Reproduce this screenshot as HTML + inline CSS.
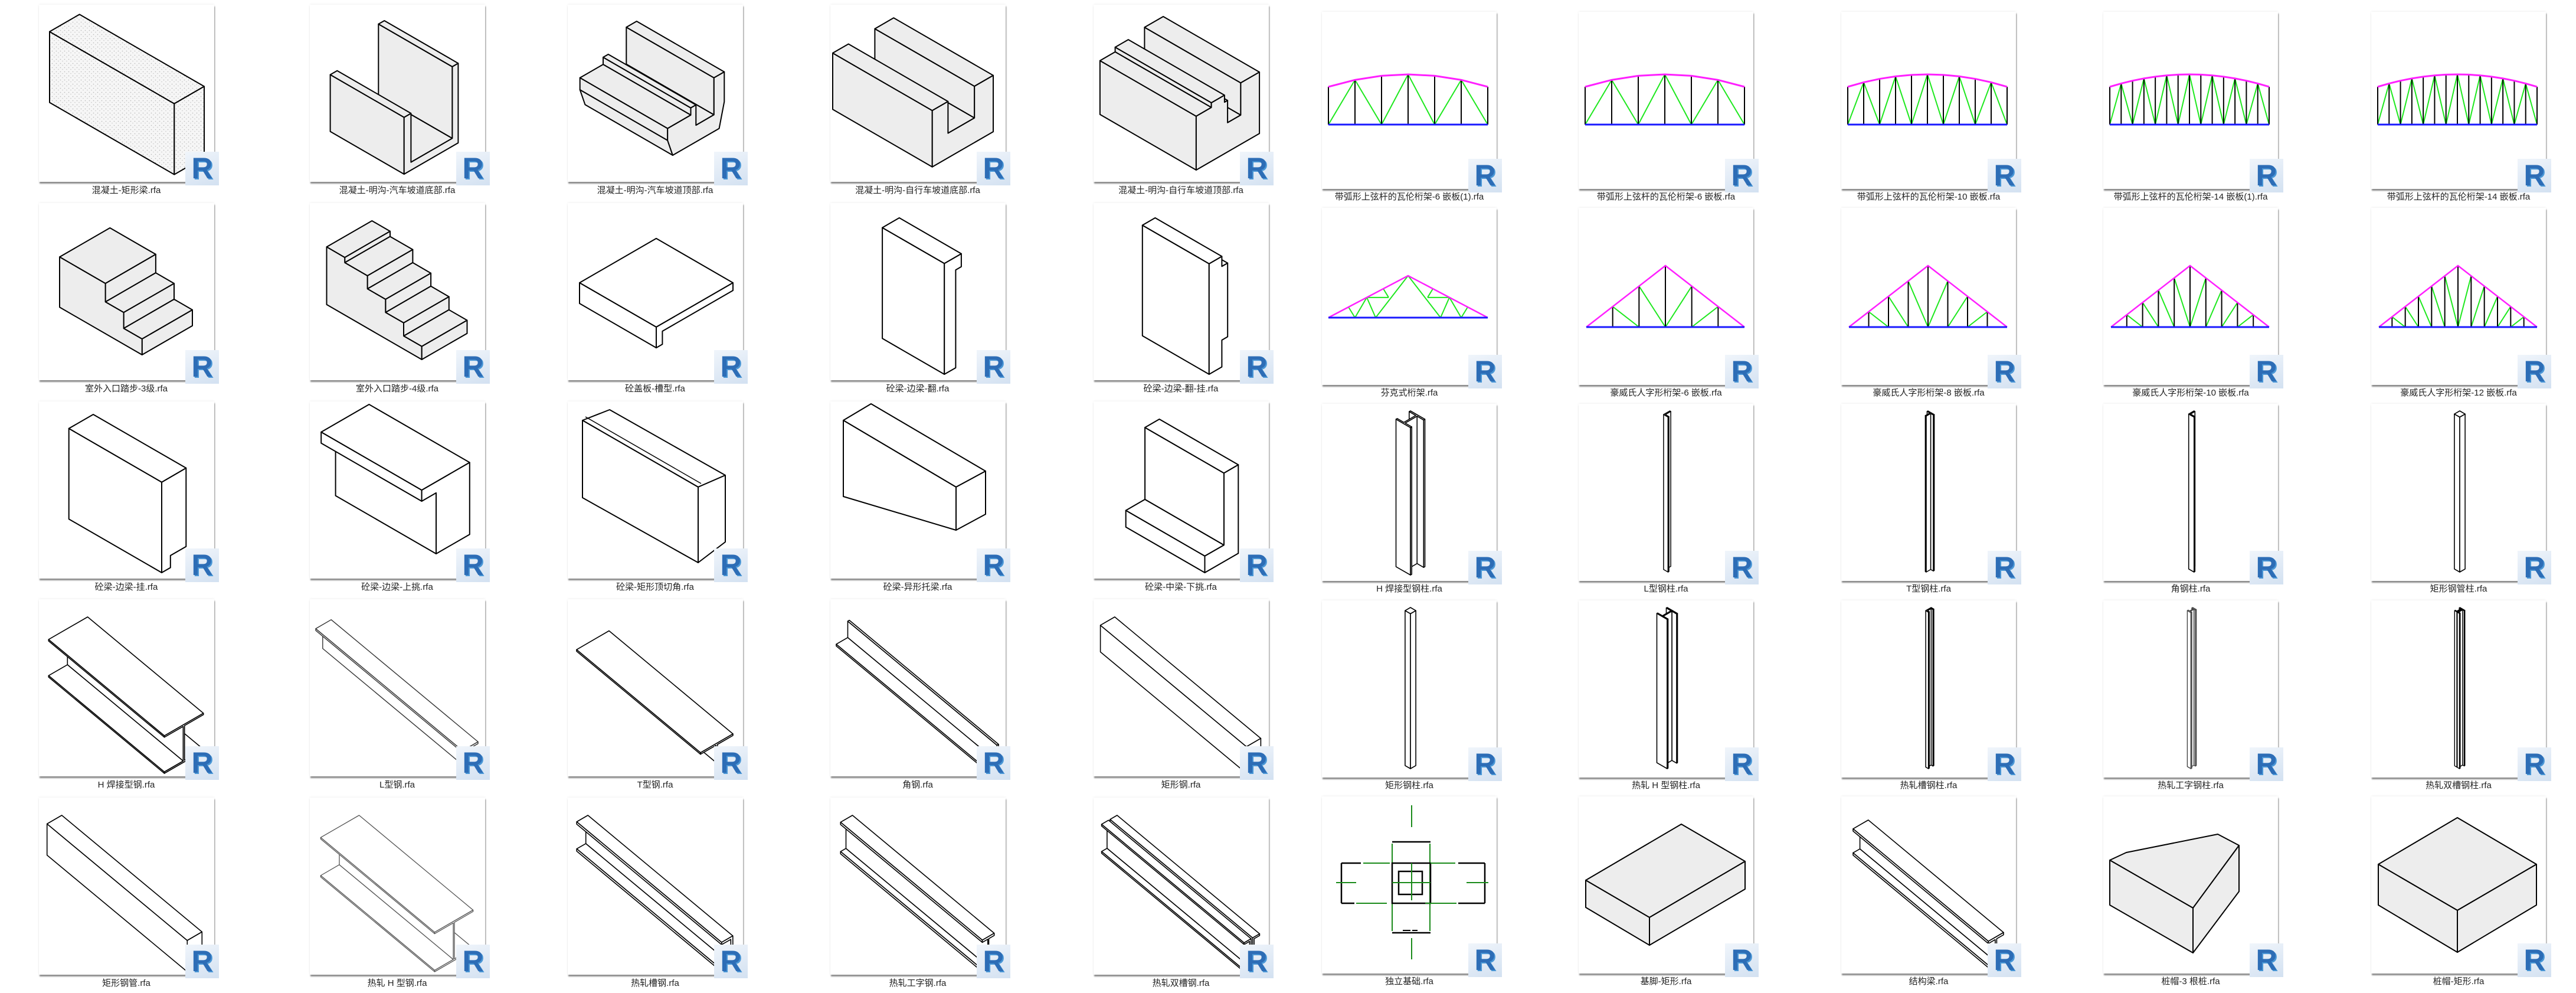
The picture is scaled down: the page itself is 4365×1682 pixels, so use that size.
<!DOCTYPE html>
<html><head><meta charset="utf-8">
<style>
html,body{margin:0;padding:0;background:#fff;}
body{width:4365px;height:1682px;position:relative;overflow:hidden;font-family:"Liberation Sans","Noto Sans CJK SC",sans-serif;}
.th{position:absolute;width:297px;height:300px;background:#fff;box-shadow:1px 3px 2px rgba(0,0,0,0.45),0 -1px 3px rgba(0,0,0,0.06);}
.th svg{position:absolute;left:0;top:0;}
.rb{position:absolute;left:248px;top:249px;width:57px;height:57px;background:linear-gradient(160deg,#f0f5fb,#d3e1f1);font:bold 50px/57px "Liberation Sans",sans-serif;color:#2d6db6;text-align:center;text-shadow:2px 2px 0 #4a97d6;}
.lb{position:absolute;width:440px;text-align:center;font-size:15px;line-height:20px;color:#222;white-space:nowrap;}
</style></head><body>
<div id="cells"></div>

<div class="lb" style="left:-6px;top:313px">混凝土-矩形梁.rfa</div>
<div class="lb" style="left:453px;top:313px">混凝土-明沟-汽车坡道底部.rfa</div>
<div class="lb" style="left:890px;top:313px">混凝土-明沟-汽车坡道顶部.rfa</div>
<div class="lb" style="left:1335px;top:313px">混凝土-明沟-自行车坡道底部.rfa</div>
<div class="lb" style="left:1781px;top:313px">混凝土-明沟-自行车坡道顶部.rfa</div>
<div class="lb" style="left:-6px;top:649px">室外入口踏步-3级.rfa</div>
<div class="lb" style="left:453px;top:649px">室外入口踏步-4级.rfa</div>
<div class="lb" style="left:890px;top:649px">砼盖板-槽型.rfa</div>
<div class="lb" style="left:1335px;top:649px">砼梁-边梁-翻.rfa</div>
<div class="lb" style="left:1781px;top:649px">砼梁-边梁-翻-挂.rfa</div>
<div class="lb" style="left:-6px;top:985px">砼梁-边梁-挂.rfa</div>
<div class="lb" style="left:453px;top:985px">砼梁-边梁-上挑.rfa</div>
<div class="lb" style="left:890px;top:985px">砼梁-矩形顶切角.rfa</div>
<div class="lb" style="left:1335px;top:985px">砼梁-异形托梁.rfa</div>
<div class="lb" style="left:1781px;top:985px">砼梁-中梁-下挑.rfa</div>
<div class="lb" style="left:-6px;top:1320px">H 焊接型钢.rfa</div>
<div class="lb" style="left:453px;top:1320px">L型钢.rfa</div>
<div class="lb" style="left:890px;top:1320px">T型钢.rfa</div>
<div class="lb" style="left:1335px;top:1320px">角钢.rfa</div>
<div class="lb" style="left:1781px;top:1320px">矩形钢.rfa</div>
<div class="lb" style="left:-6px;top:1656px">矩形钢管.rfa</div>
<div class="lb" style="left:453px;top:1656px">热轧 H 型钢.rfa</div>
<div class="lb" style="left:890px;top:1656px">热轧槽钢.rfa</div>
<div class="lb" style="left:1335px;top:1656px">热轧工字钢.rfa</div>
<div class="lb" style="left:1781px;top:1656px">热轧双槽钢.rfa</div>

<div class="lb" style="left:2168px;top:324px">带弧形上弦杆的瓦伦桁架-6 嵌板(1).rfa</div>
<div class="lb" style="left:2603px;top:324px">带弧形上弦杆的瓦伦桁架-6 嵌板.rfa</div>
<div class="lb" style="left:3048px;top:324px">带弧形上弦杆的瓦伦桁架-10 嵌板.rfa</div>
<div class="lb" style="left:3492px;top:324px">带弧形上弦杆的瓦伦桁架-14 嵌板(1).rfa</div>
<div class="lb" style="left:3946px;top:324px">带弧形上弦杆的瓦伦桁架-14 嵌板.rfa</div>
<div class="lb" style="left:2168px;top:656px">芬克式桁架.rfa</div>
<div class="lb" style="left:2603px;top:656px">豪威氏人字形桁架-6 嵌板.rfa</div>
<div class="lb" style="left:3048px;top:656px">豪威氏人字形桁架-8 嵌板.rfa</div>
<div class="lb" style="left:3492px;top:656px">豪威氏人字形桁架-10 嵌板.rfa</div>
<div class="lb" style="left:3946px;top:656px">豪威氏人字形桁架-12 嵌板.rfa</div>
<div class="lb" style="left:2168px;top:988px">H 焊接型钢柱.rfa</div>
<div class="lb" style="left:2603px;top:988px">L型钢柱.rfa</div>
<div class="lb" style="left:3048px;top:988px">T型钢柱.rfa</div>
<div class="lb" style="left:3492px;top:988px">角钢柱.rfa</div>
<div class="lb" style="left:3946px;top:988px">矩形钢管柱.rfa</div>
<div class="lb" style="left:2168px;top:1321px">矩形钢柱.rfa</div>
<div class="lb" style="left:2603px;top:1321px">热轧 H 型钢柱.rfa</div>
<div class="lb" style="left:3048px;top:1321px">热轧槽钢柱.rfa</div>
<div class="lb" style="left:3492px;top:1321px">热轧工字钢柱.rfa</div>
<div class="lb" style="left:3946px;top:1321px">热轧双槽钢柱.rfa</div>
<div class="lb" style="left:2168px;top:1653px">独立基础.rfa</div>
<div class="lb" style="left:2603px;top:1653px">基脚-矩形.rfa</div>
<div class="lb" style="left:3048px;top:1653px">结构梁.rfa</div>
<div class="lb" style="left:3492px;top:1653px">桩帽-3 根桩.rfa</div>
<div class="lb" style="left:3946px;top:1653px">桩帽-矩形.rfa</div>

<script>
const LX=[66,525,962,1407,1853], LY=[8,344,680,1015,1351];
const RX=[2240,2675,3120,3564,4018], RY=[20,352,684,1017,1349];
const ISO={ex:[.866,.5],ey:[-.866,.5],ez:[0,-1]};
const STEEP={ex:[.77,.64],ey:[-.865,.5],ez:[0,-1]};
const add=(a,b)=>[a[0]+b[0],a[1]+b[1],a[2]+b[2]], mul=(a,s)=>[a[0]*s,a[1]*s,a[2]*s], dot=(a,b)=>a[0]*b[0]+a[1]*b[1]+a[2]*b[2];
function ext(prof,A,P,Q,L,off){
  off=off||[0,0,0];
  let n=prof.length,area=0;
  for(let i=0;i<n;i++){const j=(i+1)%n;area+=prof[i][0]*prof[j][1]-prof[j][0]*prof[i][1];}
  const sg=area>0?1:-1;
  const B=prof.map(([p,q])=>add(off,add(mul(P,p),mul(Q,q))));
  const T=B.map(b=>add(b,mul(A,L)));
  const f=[];
  for(let i=0;i<n;i++){const j=(i+1)%n;const dp=prof[j][0]-prof[i][0],dq=prof[j][1]-prof[i][1];
    const nn=mul(add(mul(P,dq),mul(Q,-dp)),sg);
    f.push({v:[B[i],B[j],T[j],T[i]],n:nn});}
  f.push({v:B,n:mul(A,-1)});f.push({v:T,n:A});
  return f;
}
function render(faces,pr,box,fill,sw,stroke){
  const r1=[pr.ex[0],pr.ey[0],pr.ez[0]],r2=[pr.ex[1],pr.ey[1],pr.ez[1]];
  const view=[r1[1]*r2[2]-r1[2]*r2[1],r1[2]*r2[0]-r1[0]*r2[2],r1[0]*r2[1]-r1[1]*r2[0]];
  const vis=faces.filter(f=>dot(f.n,view)>1e-6);
  vis.forEach(f=>{f.d=f.v.reduce((s,p)=>s+dot(p,view),0)/f.v.length;f.p=f.v.map(p=>[dot(p,r1),dot(p,r2)]);});
  vis.sort((a,b)=>a.d-b.d);
  let x0=1e9,y0=1e9,x1=-1e9,y1=-1e9;
  vis.forEach(f=>f.p.forEach(([x,y])=>{x0=Math.min(x0,x);y0=Math.min(y0,y);x1=Math.max(x1,x);y1=Math.max(y1,y);}));
  const s=Math.min((box[2]-box[0])/(x1-x0),(box[3]-box[1])/(y1-y0));
  const cx=(box[0]+box[2])/2-(x0+x1)/2*s, cy=(box[1]+box[3])/2-(y0+y1)/2*s;
  return vis.map(f=>`<polygon points="${f.p.map(([x,y])=>(x*s+cx).toFixed(1)+','+(y*s+cy).toFixed(1)).join(' ')}" fill="${fill}" stroke="${stroke||'#000'}" stroke-width="${sw}" stroke-linejoin="round"/>`).join('');
}
const beam=(prof,L)=>ext(prof,[1,0,0],[0,-1,0],[0,0,1],L);
const member=(prof,L,off)=>ext(prof,[1,0,0],[0,1,0],[0,0,1],L,off);
const column=(prof,L,off)=>ext(prof,[0,0,1],[1,0,0],[0,-1,0],L,off);
const I=(B,H,tf,tw)=>[[0,0],[B,0],[B,tf],[B/2+tw/2,tf],[B/2+tw/2,H-tf],[B,H-tf],[B,H],[0,H],[0,H-tf],[B/2-tw/2,H-tf],[B/2-tw/2,tf],[0,tf]];
const C=(B,H,t)=>[[0,0],[B,0],[B,t],[t,t],[t,H-t],[B,H-t],[B,H],[0,H]];
const Lg=(B,H,t)=>[[0,0],[B,0],[B,t],[t,t],[t,H],[0,H]];
const Tp=(B,H,t)=>[[B/2-t/2,0],[B/2+t/2,0],[B/2+t/2,H-t],[B,H-t],[B,H],[0,H],[0,H-t],[B/2-t/2,H-t]];
const R=(B,H)=>[[0,0],[B,0],[B,H],[0,H]];
const G='#ededed', MB=[10,30,285,295];

function warren(N){
  let s='';const X=i=>11+270*i/N, Y=i=>{const u=2*i/N-1;return 106+21*u*u;}, b=191;
  for(let i=0;i<N;i++){ if(i%2==0) s+=`<line x1="${X(i)}" y1="${b}" x2="${X(i+1)}" y2="${Y(i+1)}" stroke="#1ee81e" stroke-width="2"/>`;
    else s+=`<line x1="${X(i)}" y1="${Y(i)}" x2="${X(i+1)}" y2="${b}" stroke="#1ee81e" stroke-width="2"/>`;}
  for(let i=0;i<=N;i++) s+=`<line x1="${X(i)}" y1="${Y(i)}" x2="${X(i)}" y2="${b}" stroke="#000" stroke-width="2"/>`;
  let pts=[];for(let i=0;i<=N;i++)pts.push(X(i)+','+Y(i));
  s+=`<polyline points="${pts.join(' ')}" fill="none" stroke="#ff20ff" stroke-width="3"/>`;
  s+=`<line x1="11" y1="${b}" x2="281" y2="${b}" stroke="#1a1aff" stroke-width="3"/>`;
  return s;
}
function howe(N){
  let s='';const b=202,pk=98,X=i=>13+268*i/N,Y=i=>b-(b-pk)*(1-Math.abs(2*i/N-1));
  for(let i=1;i<N/2;i++){ s+=`<line x1="${X(i)}" y1="${Y(i)}" x2="${X(i+1)}" y2="${b}" stroke="#1ee81e" stroke-width="2"/>`;
    const k=N-i; s+=`<line x1="${X(k)}" y1="${Y(k)}" x2="${X(k-1)}" y2="${b}" stroke="#1ee81e" stroke-width="2"/>`;}
  for(let i=1;i<N;i++) s+=`<line x1="${X(i)}" y1="${Y(i)}" x2="${X(i)}" y2="${b}" stroke="#000" stroke-width="2"/>`;
  s+=`<polyline points="13,${b} ${X(N/2)},${pk} 281,${b}" fill="none" stroke="#ff20ff" stroke-width="2.5"/>`;
  s+=`<line x1="13" y1="${b}" x2="281" y2="${b}" stroke="#1a1aff" stroke-width="3"/>`;
  return s;
}
function fink(){
  const b=186,t=x=>b-71*(1-Math.abs(x-146)/135);
  let L=[[45,t(45),56,b],[56,b,76,t(76)],[76,t(76),91,b],[91,b,146,115],[76,t(76),113,t(76)],[113,t(76),104,t(104)]];
  let s='';
  L.forEach(l=>{s+=`<line x1="${l[0]}" y1="${l[1]}" x2="${l[2]}" y2="${l[3]}" stroke="#1ee81e" stroke-width="2"/>`;
    s+=`<line x1="${292-l[0]}" y1="${l[1]}" x2="${292-l[2]}" y2="${l[3]}" stroke="#1ee81e" stroke-width="2"/>`;});
  s+=`<polyline points="11,${b} 146,115 281,${b}" fill="none" stroke="#ff20ff" stroke-width="2.5"/>`;
  s+=`<line x1="11" y1="${b}" x2="281" y2="${b}" stroke="#1a1aff" stroke-width="3"/>`;
  return s;
}
function found(){
  const g='#1a8a1a';let s='';
  const ln=(a,b,c,d,col,w)=>s+=`<line x1="${a}" y1="${b}" x2="${c}" y2="${d}" stroke="${col}" stroke-width="${w}"/>`;
  ln(152,15,152,52,g,2);ln(152,240,152,276,g,2);
  ln(119,77,184,77,'#000',2.5);ln(119,231,184,231,'#000',2.5);
  ln(119,80,119,228,g,2);ln(183,80,183,228,g,2);
  ln(33,113,66,113,'#000',2.5);ln(231,113,276,113,'#000',2.5);ln(33,181,55,181,'#000',2.5);ln(231,181,276,181,'#000',2.5);
  ln(33,113,33,181,'#000',2.5);ln(276,113,276,181,'#000',2.5);
  s+=`<rect x="119" y="113" width="65" height="68" fill="none" stroke="#000" stroke-width="2.5"/>`;
  s+=`<rect x="130" y="127" width="40" height="39" fill="none" stroke="#000" stroke-width="2.5"/>`;
  ln(70,113,115,113,g,2);ln(184,113,226,113,g,2);ln(58,181,110,181,g,2);ln(175,181,228,181,g,2);
  ln(24,146,58,146,g,2);ln(119,146,184,146,g,2);ln(245,146,282,146,g,2);ln(152,113,152,176,g,2);
  ln(137,227,150,227,'#000',2);ln(153,227,162,227,'#000',2);
  return s;
}
const poly=(pts,fill)=>`<polygon points="${pts.map(p=>p.join(',')).join(' ')}" fill="${fill||G}" stroke="#000" stroke-width="2" stroke-linejoin="round"/>`;

const STIP='<defs><pattern id="st" width="7" height="7" patternUnits="userSpaceOnUse"><rect width="7" height="7" fill="#f6f6f6"/><circle cx="1.5" cy="1.5" r=".8" fill="#b5b5b5"/><circle cx="5" cy="4.5" r=".8" fill="#c5c5c5"/></pattern></defs>';

const L_DRAW=[
 [()=>STIP+render(beam(R(58,119),242),ISO,[18,14,280,290],'url(#st)',2),
  ()=>render(beam([[0,0],[110,0],[110,140],[98,140],[98,14],[14,14],[14,100],[0,100]],150),ISO,[6,27,280,287],G,2),
  ()=>render(beam([[10,0],[100,0],[110,40],[110,90],[90,90],[90,28],[55,28],[55,62],[45,62],[45,50],[0,50],[0,30]],170),ISO,[6,28,280,255],G,2),
  ()=>render(beam([[0,0],[120,0],[120,96],[83,96],[83,42],[31,42],[31,96],[0,96]],196),ISO,[4,22,276,275],G,2),
  ()=>render(beam([[0,0],[125,0],[125,105],[88,105],[88,50],[62,50],[62,88],[56,88],[56,100],[30,100],[30,92],[0,92]],190),ISO,[10,20,282,280],G,2)],
 [()=>render(ext([[0,0],[180,0],[180,30],[140,30],[140,60],[100,60],[100,95],[0,95]],[0,-1,0],[1,0,0],[0,0,1],110),ISO,[12,42,283,257],G,2),
  ()=>render(ext([[0,0],[210,0],[210,25],[170,25],[170,50],[130,50],[130,75],[90,75],[90,100],[40,100],[40,110],[0,110]],[0,-1,0],[1,0,0],[0,0,1],100),ISO,[12,30,283,265],G,2),
  ()=>render(beam([[0,0],[12,0],[12,22],[150,22],[150,35],[0,35]],150),ISO,[20,55,280,250],'#fff',2),
  ()=>render(beam([[0,0],[20,0],[20,150],[30,150],[30,170],[0,170]],110),ISO,[40,25,270,290],'#fff',2),
  ()=>render(beam([[0,0],[22,0],[22,40],[32,40],[32,150],[22,150],[22,165],[0,165]],115),ISO,[35,25,275,290],'#fff',2)],
 [()=>render(beam([[0,0],[15,0],[15,18],[42,18],[42,135],[0,135]],160),ISO,[20,22,280,290],'#fff',2),
  ()=>render(beam([[30,0],[100,0],[100,130],[0,130],[0,110],[30,110]],210),ISO,[15,5,275,258],'#fff',2),
  ()=>poly([[25,32],[71,14],[267,125],[221,145]],'#fff')+poly([[25,32],[221,145],[221,273],[25,163]],'#fff')+poly([[221,145],[267,125],[267,238],[221,273]],'#fff')+'<line x1="30" y1="26" x2="226" y2="139" stroke="#000" stroke-width="1.5"/>',
  ()=>poly([[22,32],[69,4],[263,118],[213,145]],'#fff')+poly([[22,32],[213,145],[213,218],[22,161]],'#fff')+poly([[213,145],[263,118],[263,191],[213,218]],'#fff'),
  ()=>render(beam([[0,0],[70,0],[70,160],[40,160],[40,30],[0,30]],165),ISO,[18,30,282,290],'#fff',2)],
 [()=>render(member(I(90,75,3,3),300),STEEP,MB,'#fff',1.6),
  ()=>render(member(Tp(30,40,3),320),STEEP,MB,'#fff',1.4,'#333'),
  ()=>render(member(Tp(70,35,3),300),STEEP,[15,40,280,290],'#fff',1.6),
  ()=>render(member(Lg(25,30,3),320),STEEP,MB,'#fff',1.6),
  ()=>render(member(R(28,45),320),STEEP,MB,'#fff',1.6)],
 [()=>render(member(R(30,55),320),STEEP,[5,30,285,295],'#fff',1.6),
  ()=>render(member(I(90,80,3,2.5),300),STEEP,MB,'#fff',1.3,'#555'),
  ()=>render(member(C(22,50,4),320),STEEP,MB,'#fff',1.6),
  ()=>render(member(I(24,55,4,2),320),STEEP,MB,'#fff',1.6),
  ()=>render(member(C(14,50,3),320).concat(member(C(14,50,3).map(([p,q])=>[-p,q]),320,[0,-3,0])),STEEP,MB,'#fff',1.6)]
];
const R_DRAW=[
 [()=>warren(6),()=>warren(6),()=>warren(10),()=>warren(14),()=>warren(14)],
 [()=>fink(),()=>howe(6),()=>howe(8),()=>howe(10),()=>howe(12)],
 [()=>render(column(I(34,34,3,3),300),ISO,[100,12,200,290],'#fff',1.6),
  ()=>render(column(Lg(10,14,2),300),ISO,[125,12,175,285],'#fff',1.5),
  ()=>render(column(Tp(14,12,2),300),ISO,[125,12,175,285],'#fff',1.5),
  ()=>render(column(Lg(12,12,2),300),ISO,[120,12,180,285],'#fff',1.6),
  ()=>render(column(R(12,12),300),ISO,[120,12,180,285],'#fff',1.6)],
 [()=>render(column(R(12,12),300),ISO,[120,12,180,285],'#fff',1.6),
  ()=>render(column(I(24,24,2,2),300),ISO,[110,12,190,285],'#fff',1.6),
  ()=>render(column(C(6,12,2),300),ISO,[125,12,175,285],'#fff',1.5),
  ()=>render(column(I(8,12,2,1.5),300),ISO,[125,12,175,285],'#fff',1.4,'#444'),
  ()=>render(column(C(5,12,1.5),300).concat(column(C(5,12,1.5).map(([p,q])=>[-p,q]),300,[-1,0,0])),ISO,[125,12,175,285],'#fff',1.4)],
 [()=>found(),
  ()=>poly([[12,142],[174,47],[282,110],[120,205]])+poly([[12,142],[120,205],[120,252],[12,188]])+poly([[120,205],[282,110],[282,157],[120,252]]),
  ()=>render(member(I(30,45,4,3),300),STEEP,[10,40,285,290],'#fff',1.6),
  ()=>poly([[11,108],[39,95],[194,64],[230,83],[152,189]])+poly([[11,108],[152,189],[152,265],[11,184]])+poly([[152,189],[230,83],[230,161],[152,265]]),
  ()=>poly([[12,115],[146,36],[280,115],[146,193]])+poly([[12,115],[146,193],[146,264],[12,184]])+poly([[146,193],[280,115],[280,184],[146,264]])]
];
let h='';
for(let r=0;r<5;r++)for(let c=0;c<5;c++){
  h+=`<div class="th" style="left:${LX[c]}px;top:${LY[r]}px"><svg width="297" height="300">${L_DRAW[r][c]()}</svg><div class="rb">R</div></div>`;
  h+=`<div class="th" style="left:${RX[c]}px;top:${RY[r]}px;width:296px"><svg width="296" height="300">${R_DRAW[r][c]()}</svg><div class="rb">R</div></div>`;
}
document.getElementById('cells').innerHTML=h;
</script>
</body></html>
